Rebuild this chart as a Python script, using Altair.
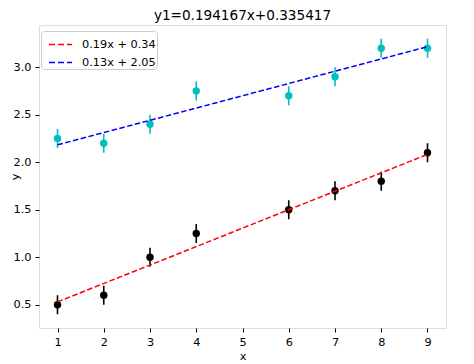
import altair as alt
import pandas as pd

x_vals = [1, 2, 3, 4, 6, 7, 8, 9]
y1_vals = [0.5, 0.6, 1.0, 1.25, 1.5, 1.7, 1.8, 2.1]
y2_vals = [2.25, 2.2, 2.4, 2.75, 2.7, 2.9, 3.2, 3.2]
y_err = [0.1, 0.1, 0.1, 0.1, 0.1, 0.1, 0.1, 0.1]
fit_labels = ["0.19x + 0.34", "0.13x + 2.05"]
point_colors = ["#000000", "#00bfbf"]
line_colors = ["#ff0000", "#0000ff"]
x_ticks = [1, 2, 3, 4, 5, 6, 7, 8, 9]
y_ticks = [0.5, 1.0, 1.5, 2.0, 2.5, 3.0]
title_text = "y1=0.194167x+0.335417"

rows = []
for lab, ys in zip(fit_labels, [y1_vals, y2_vals]):
    for xv, yv, e in zip(x_vals, ys, y_err):
        rows.append(dict(x=xv, y=yv, lo=yv - e, hi=yv + e, fit=lab))
df = pd.DataFrame(rows)

FONT = "DejaVu Sans"
FS = 11.3
xscale = alt.Scale(domain=[0.6, 9.4], nice=False, zero=False)
yscale = alt.Scale(domain=[0.255, 3.445], nice=False, zero=False)

xaxis = alt.Axis(values=x_ticks, format="d", grid=False, domain=False, tickSize=4,
                 tickColor="black", labelPadding=4, labelFontSize=FS, labelColor="black",
                 labelFont=FONT, title="x", titleFont=FONT, titleFontSize=FS,
                 titleFontWeight="normal", titleColor="black",
                 titleY=31, titleBaseline="alphabetic")
yaxis = alt.Axis(values=y_ticks, format=".1f", grid=False, domain=False, tickSize=4,
                 tickColor="black", labelPadding=4, labelFontSize=FS, labelColor="black",
                 labelFont=FONT, title="y", titleFont=FONT, titleFontSize=FS,
                 titleFontWeight="normal", titleColor="black", titleX=-19)

base = alt.Chart(df)

layers = []
for lab, pc in zip(fit_labels, point_colors):
    sub = base.transform_filter(alt.datum.fit == lab)
    err = sub.mark_rule(color=pc, strokeWidth=1.6).encode(
        x=alt.X("x:Q", scale=xscale, axis=xaxis),
        y=alt.Y("lo:Q", scale=yscale, axis=yaxis),
        y2="hi:Q",
    )
    pts = sub.mark_circle(color=pc, size=55, opacity=1).encode(
        x=alt.X("x:Q", scale=xscale, axis=xaxis),
        y=alt.Y("y:Q", scale=yscale, axis=yaxis),
    )
    layers += [err, pts]

fit = base.transform_regression("x", "y", groupby=["fit"]).mark_line(
    strokeDash=[5.5, 2.5], strokeWidth=1.5
).encode(
    x=alt.X("x:Q", scale=xscale, axis=xaxis),
    y=alt.Y("y:Q", scale=yscale, axis=yaxis),
    color=alt.Color(
        "fit:N",
        scale=alt.Scale(domain=fit_labels, range=line_colors),
        legend=alt.Legend(
            title=None, orient="none", legendX=2, legendY=6,
            symbolType="stroke", symbolSize=529, symbolStrokeWidth=1.5,
            symbolDash=[6, 3], symbolOffset=6, labelFont=FONT, labelFontSize=FS,
            labelColor="black", labelOffset=9, rowPadding=-1.5,
            padding=1, fillColor="white", strokeColor="#cccccc", cornerRadius=3,
        ),
    ),
)

chart = alt.layer(*layers, fit).properties(
    width=407, height=303,
    title=alt.Title(title_text, font=FONT, fontSize=13.6, fontWeight="normal",
                    color="black", frame="group", offset=2),
    autosize=alt.AutoSizeParams(type="none"),
    padding={"left": 31, "top": 17, "right": 20, "bottom": 36},
).configure_view(stroke="black", strokeWidth=1).configure(background="white")

chart.save("out.html", embed_options={"renderer": "svg", "actions": False})
